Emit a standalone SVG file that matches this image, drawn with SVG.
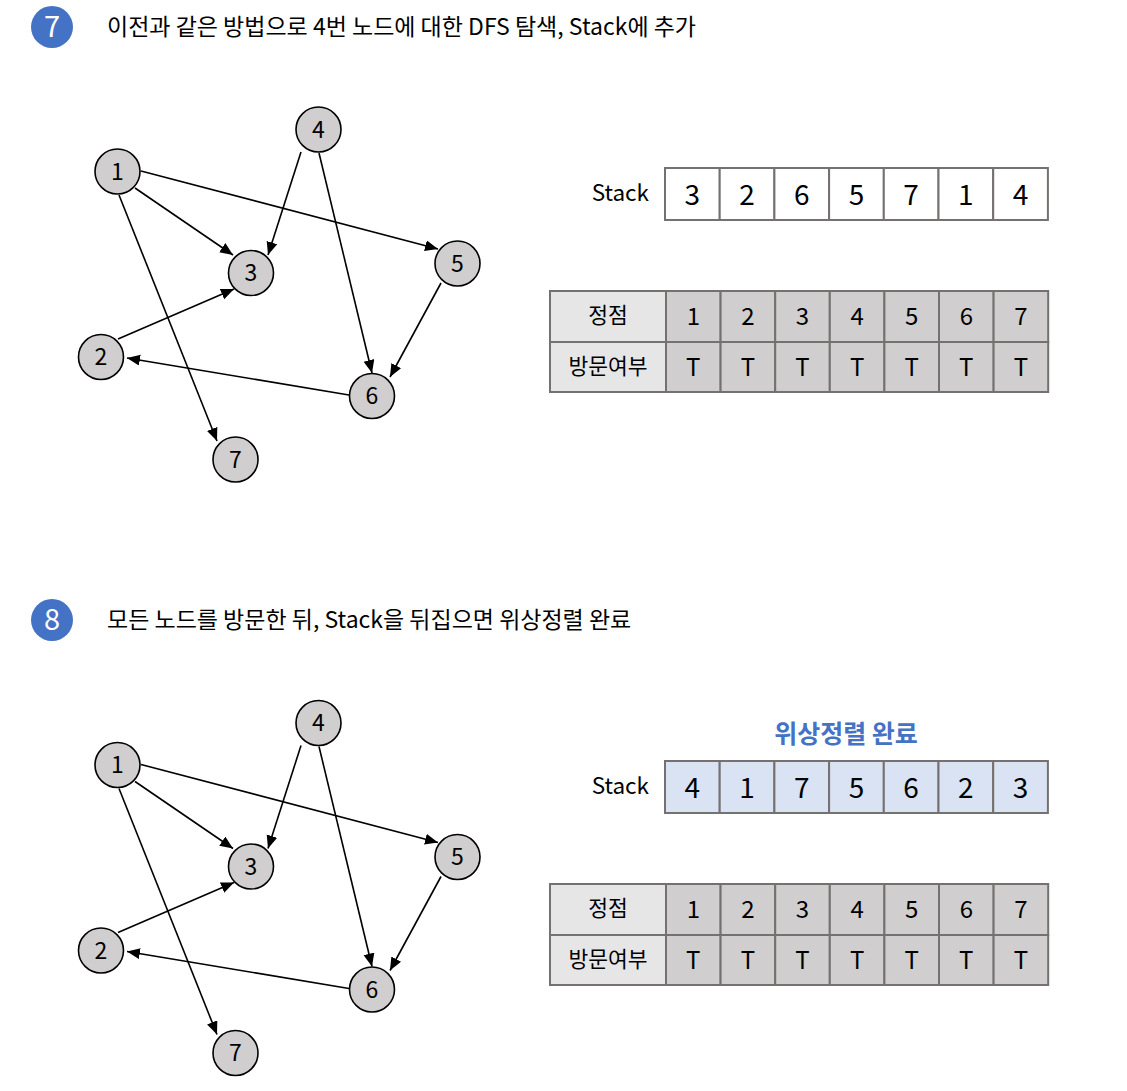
<svg xmlns="http://www.w3.org/2000/svg" width="1127" height="1091" viewBox="0 0 1127 1091">
<defs>
<style>
text{font-family:"Noto Sans CJK KR","Noto Sans",sans-serif;fill:#000}
.title{font-size:23px}
.badge{fill:#4472c4}
.badgeT{font-size:29px;fill:#fff;text-anchor:middle}
.node circle{fill:#d0cece;stroke:#000;stroke-width:1.6}
.node text{font-size:23px;text-anchor:middle}
.edge{stroke:#000;stroke-width:1.6;fill:none;marker-end:url(#ah)}
.cell{stroke:#767171;stroke-width:2}
.sw{fill:#fff}
.sb{fill:#dae3f3}
.hd{fill:#e7e6e6}
.dc{fill:#d0cece}
.num{font-size:28px;text-anchor:middle}
.tn{font-size:24px;text-anchor:middle}
.lab{font-size:21.5px;text-anchor:middle}
.stk{font-size:22.5px;text-anchor:end}
.done{font-size:25px;font-weight:bold;fill:#4472c4;text-anchor:middle}
</style>
<marker id="ah" markerUnits="userSpaceOnUse" markerWidth="14" markerHeight="12" refX="13" refY="5.5" orient="auto">
<path d="M0,0 L13,5.5 L0,11 z" fill="#000"/>
</marker>
<g id="graph">
<g class="edges">
<line class="edge" x1="135" y1="188" x2="233" y2="255"/>
<line class="edge" x1="141" y1="171" x2="438" y2="249"/>
<line class="edge" x1="119" y1="195" x2="217" y2="441"/>
<line class="edge" x1="301" y1="152" x2="268" y2="255"/>
<line class="edge" x1="319" y1="153" x2="372" y2="373"/>
<line class="edge" x1="441" y1="283" x2="390" y2="377"/>
<line class="edge" x1="118" y1="339" x2="234" y2="289"/>
<line class="edge" x1="349" y1="395" x2="127" y2="358"/>
</g>
</g>
</defs>

<!-- Section 7 -->
<g id="step7">
<circle class="badge" cx="52" cy="27" r="21"/>
<text class="badgeT" x="52" y="37">7</text>
<text class="title" x="107" y="35">이전과 같은 방법으로 4번 노드에 대한 DFS 탐색, Stack에 추가</text>
</g>

<g id="connectors-top">
<use href="#graph"/>
</g>
<g id="n1" class="node"><circle cx="117.5" cy="171.5" r="22.5"/><text x="117.5" y="179.5">1</text></g>
<g id="n2" class="node"><circle cx="101" cy="357" r="22.5"/><text x="101" y="365">2</text></g>
<g id="n3" class="node"><circle cx="251" cy="273" r="22.5"/><text x="251" y="281">3</text></g>
<g id="n4" class="node"><circle cx="318.5" cy="129.5" r="22.5"/><text x="318.5" y="137.5">4</text></g>
<g id="n5" class="node"><circle cx="457.5" cy="263.5" r="22.5"/><text x="457.5" y="271.5">5</text></g>
<g id="n6" class="node"><circle cx="372" cy="396" r="22.5"/><text x="372" y="404">6</text></g>
<g id="n7" class="node"><circle cx="235.5" cy="459.5" r="22.5"/><text x="235.5" y="467.5">7</text></g>

<g id="stack7">
<text class="stk" x="649" y="201">Stack</text>
<rect class="cell sw" x="665" y="168" width="54.7" height="52"/>
<rect class="cell sw" x="719.7" y="168" width="54.7" height="52"/>
<rect class="cell sw" x="774.4" y="168" width="54.7" height="52"/>
<rect class="cell sw" x="829.1" y="168" width="54.7" height="52"/>
<rect class="cell sw" x="883.8" y="168" width="54.7" height="52"/>
<rect class="cell sw" x="938.5" y="168" width="54.7" height="52"/>
<rect class="cell sw" x="993.2" y="168" width="54.7" height="52"/>
<text class="num" x="692.3" y="205">3</text>
<text class="num" x="747" y="205">2</text>
<text class="num" x="801.7" y="205">6</text>
<text class="num" x="856.4" y="205">5</text>
<text class="num" x="911.1" y="205">7</text>
<text class="num" x="965.8" y="205">1</text>
<text class="num" x="1020.5" y="205">4</text>
</g>

<g id="visit7">
<rect class="cell hd" x="550" y="291" width="116" height="51"/>
<rect class="cell hd" x="550" y="342" width="116" height="50"/>
<text class="lab" x="608" y="323">정점</text>
<text class="lab" x="608" y="374">방문여부</text>
<g class="dcs">
<rect class="cell dc" x="666" y="291" width="54.6" height="51"/><rect class="cell dc" x="720.6" y="291" width="54.6" height="51"/><rect class="cell dc" x="775.2" y="291" width="54.6" height="51"/><rect class="cell dc" x="829.8" y="291" width="54.6" height="51"/><rect class="cell dc" x="884.4" y="291" width="54.6" height="51"/><rect class="cell dc" x="939" y="291" width="54.6" height="51"/><rect class="cell dc" x="993.6" y="291" width="54.6" height="51"/>
<rect class="cell dc" x="666" y="342" width="54.6" height="50"/><rect class="cell dc" x="720.6" y="342" width="54.6" height="50"/><rect class="cell dc" x="775.2" y="342" width="54.6" height="50"/><rect class="cell dc" x="829.8" y="342" width="54.6" height="50"/><rect class="cell dc" x="884.4" y="342" width="54.6" height="50"/><rect class="cell dc" x="939" y="342" width="54.6" height="50"/><rect class="cell dc" x="993.6" y="342" width="54.6" height="50"/>
</g>
<text class="tn" x="693.3" y="325">1</text><text class="tn" x="747.9" y="325">2</text><text class="tn" x="802.5" y="325">3</text><text class="tn" x="857.1" y="325">4</text><text class="tn" x="911.7" y="325">5</text><text class="tn" x="966.3" y="325">6</text><text class="tn" x="1020.9" y="325">7</text>
<text class="tn" x="693.3" y="376">T</text><text class="tn" x="747.9" y="376">T</text><text class="tn" x="802.5" y="376">T</text><text class="tn" x="857.1" y="376">T</text><text class="tn" x="911.7" y="376">T</text><text class="tn" x="966.3" y="376">T</text><text class="tn" x="1020.9" y="376">T</text>
</g>

<!-- Section 8 -->
<g id="step8">
<circle class="badge" cx="52" cy="620" r="21"/>
<text class="badgeT" x="52" y="630">8</text>
<text class="title" x="107" y="628">모든 노드를 방문한 뒤, Stack을 뒤집으면 위상정렬 완료</text>
</g>

<g id="connectors-bottom" transform="translate(0,593.5)">
<use href="#graph"/>
</g>
<g transform="translate(0,593.5)">
<g id="m1" class="node"><circle cx="117.5" cy="171.5" r="22.5"/><text x="117.5" y="179.5">1</text></g>
<g id="m2" class="node"><circle cx="101" cy="357" r="22.5"/><text x="101" y="365">2</text></g>
<g id="m3" class="node"><circle cx="251" cy="273" r="22.5"/><text x="251" y="281">3</text></g>
<g id="m4" class="node"><circle cx="318.5" cy="129.5" r="22.5"/><text x="318.5" y="137.5">4</text></g>
<g id="m5" class="node"><circle cx="457.5" cy="263.5" r="22.5"/><text x="457.5" y="271.5">5</text></g>
<g id="m6" class="node"><circle cx="372" cy="396" r="22.5"/><text x="372" y="404">6</text></g>
<g id="m7" class="node"><circle cx="235.5" cy="459.5" r="22.5"/><text x="235.5" y="467.5">7</text></g>
</g>

<text class="done" x="846" y="743">위상정렬 완료</text>

<g id="stack8" transform="translate(0,593)">
<text class="stk" x="649" y="201">Stack</text>
<rect class="cell sb" x="665" y="168" width="54.7" height="52"/>
<rect class="cell sb" x="719.7" y="168" width="54.7" height="52"/>
<rect class="cell sb" x="774.4" y="168" width="54.7" height="52"/>
<rect class="cell sb" x="829.1" y="168" width="54.7" height="52"/>
<rect class="cell sb" x="883.8" y="168" width="54.7" height="52"/>
<rect class="cell sb" x="938.5" y="168" width="54.7" height="52"/>
<rect class="cell sb" x="993.2" y="168" width="54.7" height="52"/>
<text class="num" x="692.3" y="205">4</text>
<text class="num" x="747" y="205">1</text>
<text class="num" x="801.7" y="205">7</text>
<text class="num" x="856.4" y="205">5</text>
<text class="num" x="911.1" y="205">6</text>
<text class="num" x="965.8" y="205">2</text>
<text class="num" x="1020.5" y="205">3</text>
</g>

<g id="visit8" transform="translate(0,593)">
<rect class="cell hd" x="550" y="291" width="116" height="51"/>
<rect class="cell hd" x="550" y="342" width="116" height="50"/>
<text class="lab" x="608" y="323">정점</text>
<text class="lab" x="608" y="374">방문여부</text>
<g class="dcs">
<rect class="cell dc" x="666" y="291" width="54.6" height="51"/><rect class="cell dc" x="720.6" y="291" width="54.6" height="51"/><rect class="cell dc" x="775.2" y="291" width="54.6" height="51"/><rect class="cell dc" x="829.8" y="291" width="54.6" height="51"/><rect class="cell dc" x="884.4" y="291" width="54.6" height="51"/><rect class="cell dc" x="939" y="291" width="54.6" height="51"/><rect class="cell dc" x="993.6" y="291" width="54.6" height="51"/>
<rect class="cell dc" x="666" y="342" width="54.6" height="50"/><rect class="cell dc" x="720.6" y="342" width="54.6" height="50"/><rect class="cell dc" x="775.2" y="342" width="54.6" height="50"/><rect class="cell dc" x="829.8" y="342" width="54.6" height="50"/><rect class="cell dc" x="884.4" y="342" width="54.6" height="50"/><rect class="cell dc" x="939" y="342" width="54.6" height="50"/><rect class="cell dc" x="993.6" y="342" width="54.6" height="50"/>
</g>
<text class="tn" x="693.3" y="325">1</text><text class="tn" x="747.9" y="325">2</text><text class="tn" x="802.5" y="325">3</text><text class="tn" x="857.1" y="325">4</text><text class="tn" x="911.7" y="325">5</text><text class="tn" x="966.3" y="325">6</text><text class="tn" x="1020.9" y="325">7</text>
<text class="tn" x="693.3" y="376">T</text><text class="tn" x="747.9" y="376">T</text><text class="tn" x="802.5" y="376">T</text><text class="tn" x="857.1" y="376">T</text><text class="tn" x="911.7" y="376">T</text><text class="tn" x="966.3" y="376">T</text><text class="tn" x="1020.9" y="376">T</text>
</g>
</svg>
